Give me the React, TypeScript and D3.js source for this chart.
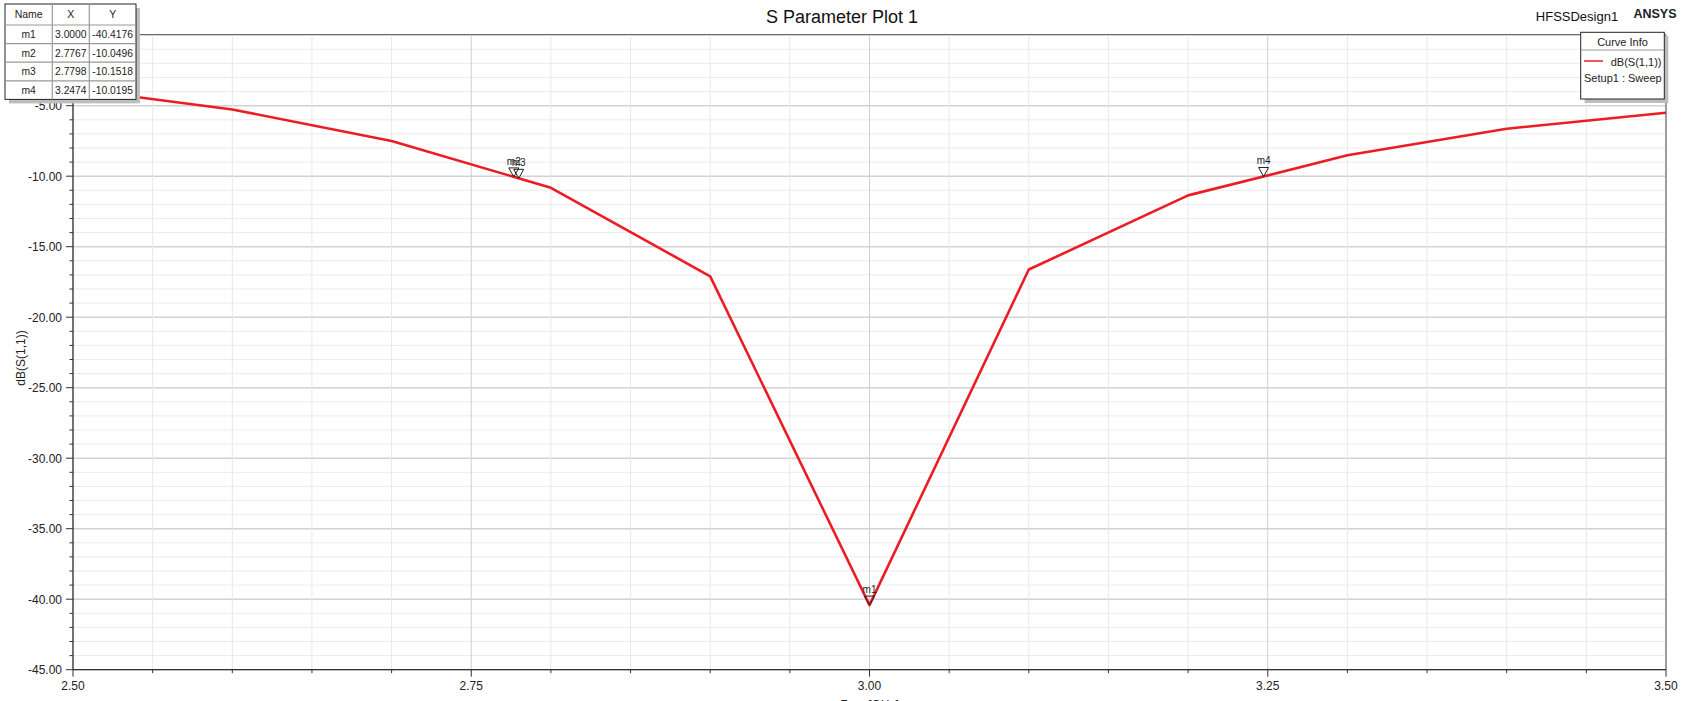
import React from "react";
import * as d3 from "d3";

// ---- data ----
const freqs = [2.5, 2.6, 2.7, 2.8, 2.9, 3.0, 3.1, 3.2, 3.3, 3.4, 3.5];
const s11 = [-3.8, -5.27, -7.5, -10.82, -17.1, -40.42, -16.62, -11.36, -8.52, -6.63, -5.5];
const markerNames = ["m1", "m2", "m3", "m4"];
const markerX = [3.0, 2.7767, 2.7798, 3.2474];
const markerY = [-40.4176, -10.0496, -10.1518, -10.0195];
const markerXText = ["3.0000", "2.7767", "2.7798", "3.2474"];
const markerYText = ["-40.4176", "-10.0496", "-10.1518", "-10.0195"];
const xTickLabels = [2.5, 2.75, 3.0, 3.25, 3.5];
const yTickLabels = [-5, -10, -15, -20, -25, -30, -35, -40, -45];
const title = "S Parameter Plot 1";
const xLabel = "Freq [GHz]";
const yLabel = "dB(S(1,1))";
const seriesName = "dB(S(1,1))";
const seriesSetup = "Setup1 : Sweep";

const W = 1689;
const H = 701;
const FONT = "'Liberation Sans', Arial, sans-serif";

export default function App() {
  const left = 73, right = 1666, top = 35.2, bottom = 669.7;
  const x = d3.scaleLinear().domain([2.5, 3.5]).range([left, right]);
  const y = d3.scaleLinear().domain([0, -45]).range([top, bottom]);

  const minorX = d3.range(0, 21).map((i) => 2.5 + i * 0.05);
  const minorY = d3.range(0, 46).map((i) => -i);
  const line = d3
    .line<number>()
    .x((_, i) => x(freqs[i]))
    .y((d) => y(d));

  const isMajorX = (v: number) => Math.abs(v * 4 - Math.round(v * 4)) < 1e-6;
  const isMajorY = (v: number) => Math.abs(v % 5) < 1e-6;

  // table geometry
  const tX = 5, tY = 4, colW = [47.3, 37, 46.7], headH = 21, rowH = 18.6;
  const tW = colW[0] + colW[1] + colW[2];
  const tH = headH + rowH * 4;
  const colX = [tX, tX + colW[0], tX + colW[0] + colW[1]];

  // legend geometry
  const lX = 1580.7, lY = 32.3, lW = 83.6, lH = 66.7;

  return (
    <svg
      width={W}
      height={H}
      style={{ position: "absolute", left: 0, top: 0, background: "#fff" }}
      fontFamily={FONT}
    >
      <rect x={0} y={0} width={W} height={H} fill="#fff" />
      {/* grid */}
      {minorY.map((v) => (
        <line
          key={"gy" + v}
          x1={left}
          x2={right}
          y1={y(v)}
          y2={y(v)}
          stroke={isMajorY(v) ? "#d2d2d2" : "#ebebeb"}
          strokeWidth={isMajorY(v) ? 1.6 : 1}
        />
      ))}
      {minorX.map((v) => (
        <line
          key={"gx" + v}
          x1={x(v)}
          x2={x(v)}
          y1={top}
          y2={bottom}
          stroke={isMajorX(v) ? "#cfcfcf" : "#e8e8e8"}
          strokeWidth={1}
        />
      ))}
      {/* frame top/right */}
      <line x1={left} x2={right} y1={top - 0.7} y2={top - 0.7} stroke="#6a6a6a" strokeWidth={1.2} />
      <line x1={right} x2={right} y1={top} y2={bottom} stroke="#8a8a8a" strokeWidth={1.6} />
      {/* axes */}
      <line x1={left} x2={left} y1={top} y2={bottom} stroke="#333" strokeWidth={1.3} />
      <line x1={left} x2={right} y1={bottom} y2={bottom} stroke="#333" strokeWidth={1.3} />
      {minorY.map((v) => (
        <line
          key={"ty" + v}
          x1={isMajorY(v) ? left - 7 : left - 3.5}
          x2={left}
          y1={y(v)}
          y2={y(v)}
          stroke="#333"
          strokeWidth={1}
        />
      ))}
      {minorX.map((v) => (
        <line
          key={"tx" + v}
          x1={x(v)}
          x2={x(v)}
          y1={bottom}
          y2={isMajorX(v) ? bottom + 7 : bottom + 3.5}
          stroke="#333"
          strokeWidth={1}
        />
      ))}
      {yTickLabels.map((v) => (
        <text key={"ly" + v} x={62} y={y(v)} dy="0.36em" textAnchor="end" fontSize={12} fill="#222">
          {v.toFixed(2)}
        </text>
      ))}
      {xTickLabels.map((v) => (
        <text key={"lx" + v} x={x(v)} y={690} textAnchor="middle" fontSize={12} fill="#222">
          {v.toFixed(2)}
        </text>
      ))}
      <text x={(left + right) / 2} y={709} textAnchor="middle" fontSize={12} fill="#222">
        {xLabel}
      </text>
      <text
        transform={`translate(25, 358) rotate(-90)`}
        textAnchor="middle"
        fontSize={12}
        fill="#222"
      >
        {yLabel}
      </text>
      {/* curve */}
      <path d={line(s11) || ""} fill="none" stroke="#ec1c24" strokeWidth={2.6} strokeLinejoin="round" />
      {/* markers */}
      {markerNames.map((n, i) => {
        const mx = x(markerX[i]);
        const my = y(markerY[i]);
        return (
          <g key={n}>
            <polygon
              points={`${mx - 5},${my - 9} ${mx + 5},${my - 9} ${mx},${my}`}
              fill="none"
              stroke="#222"
              strokeWidth={1}
            />
            <text x={mx} y={my - 12} textAnchor="middle" fontSize={10} fill="#222">
              {n}
            </text>
          </g>
        );
      })}
      {/* title */}
      <text x={842} y={23} textAnchor="middle" fontSize={18} fill="#111">
        {title}
      </text>
      <text x={1577} y={20.5} textAnchor="middle" fontSize={13} fill="#111">
        HFSSDesign1
      </text>
      <text x={1655} y={18} textAnchor="middle" fontSize={12.5} fontWeight="bold" fill="#222">
        ANSYS
      </text>
      {/* marker table */}
      <rect x={tX + 4} y={tY + 4} width={tW} height={tH} fill="#bdbdbd" />
      <rect x={tX} y={tY} width={tW} height={tH} fill="#fff" stroke="#222" strokeWidth={1} />
      {[1, 2].map((c) => (
        <line key={"c" + c} x1={colX[c]} x2={colX[c]} y1={tY} y2={tY + tH} stroke="#9a9a9a" strokeWidth={1.2} />
      ))}
      {[0, 1, 2, 3].map((r) => (
        <line
          key={"r" + r}
          x1={tX}
          x2={tX + tW}
          y1={tY + headH + r * rowH}
          y2={tY + headH + r * rowH}
          stroke="#9a9a9a"
          strokeWidth={1.2}
        />
      ))}
      {["Name", "X", "Y"].map((h, c) => (
        <text key={h} x={colX[c] + colW[c] / 2} y={tY + headH / 2 + 3.7} textAnchor="middle" fontSize={10.5} fill="#222">
          {h}
        </text>
      ))}
      {markerNames.map((n, r) => {
        const cy = tY + headH + r * rowH + rowH / 2 + 3.7;
        const cells = [n, markerXText[r], markerYText[r]];
        return cells.map((t, c) => (
          <text key={n + c} x={colX[c] + colW[c] / 2} y={cy} textAnchor="middle" fontSize={10.3} fill="#222">
            {t}
          </text>
        ));
      })}
      {/* legend */}
      <rect x={lX + 4} y={lY + 4} width={lW} height={lH} fill="#bdbdbd" />
      <rect x={lX} y={lY} width={lW} height={lH} fill="#fff" stroke="#222" strokeWidth={1} />
      <line x1={lX} x2={lX + lW} y1={50} y2={50} stroke="#9a9a9a" strokeWidth={1} />
      <text x={lX + lW / 2} y={45.5} textAnchor="middle" fontSize={11} fill="#222">
        Curve Info
      </text>
      <line x1={1584} x2={1603} y1={61} y2={61} stroke="#ec1c24" strokeWidth={1.5} />
      <text x={1661.5} y={66} textAnchor="end" fontSize={11} fill="#222">
        {seriesName}
      </text>
      <text x={1584} y={81.5} textAnchor="start" fontSize={11} fill="#222">
        {seriesSetup}
      </text>
    </svg>
  );
}
